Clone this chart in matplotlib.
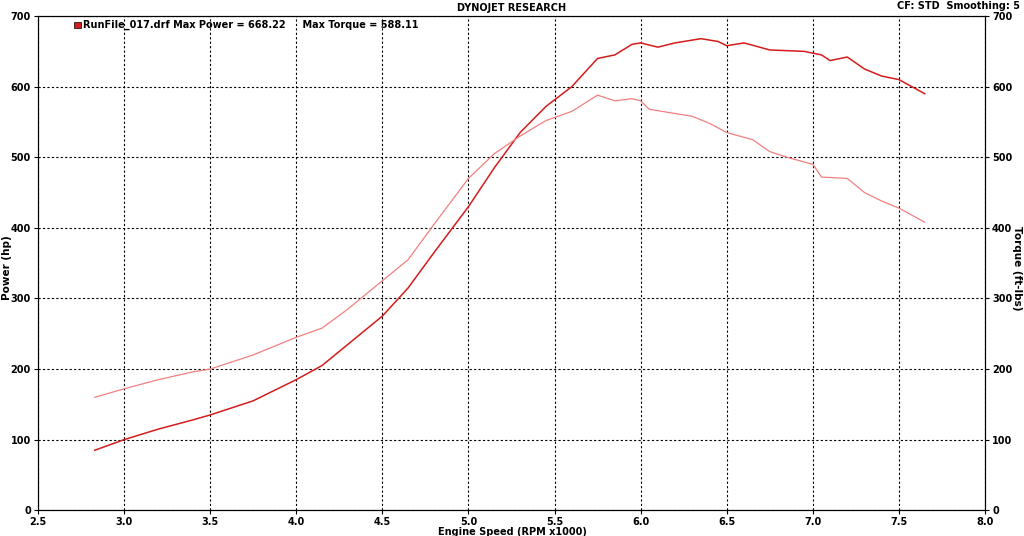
import matplotlib
matplotlib.use("Agg")
import matplotlib.pyplot as plt
from matplotlib.patches import Rectangle

plt.rcParams["font.family"] = ["DejaVu Sans"]

rpm_power = [2.83, 3.0, 3.2, 3.4, 3.5, 3.75, 4.0, 4.15, 4.3, 4.5, 4.65, 4.8, 5.0,
             5.15, 5.3, 5.45, 5.6, 5.75, 5.85, 5.95, 6.0, 6.1, 6.2, 6.35, 6.45,
             6.5, 6.6, 6.75, 6.95, 7.05, 7.1, 7.2, 7.3, 7.4, 7.5, 7.65]
power = [85, 100, 115, 128, 135, 155, 185, 205, 235, 275, 315, 365, 430,
         485, 535, 572, 600, 640, 645, 660, 662, 656, 662, 668, 664,
         658, 662, 652, 650, 645, 637, 642, 625, 615, 610, 590]

rpm_torque = [2.83, 3.0, 3.2, 3.4, 3.5, 3.75, 4.0, 4.15, 4.3, 4.5, 4.65, 4.8, 5.0,
              5.15, 5.3, 5.45, 5.6, 5.75, 5.85, 5.95, 6.0, 6.05, 6.2, 6.3, 6.4,
              6.5, 6.65, 6.75, 6.85, 7.0, 7.05, 7.2, 7.3, 7.4, 7.5, 7.65]
torque = [160, 172, 185, 196, 200, 220, 245, 258, 285, 325, 355, 405, 470,
          505, 530, 552, 565, 588, 580, 583, 580, 568, 562, 558, 548,
          535, 525, 508, 500, 490, 472, 470, 450, 438, 428, 408]

fig = plt.figure(figsize=(10.24, 5.36), dpi=100)
ax = fig.add_axes([0.037, 0.048, 0.925, 0.922])
ax.plot(rpm_power, power, color="#d41c1c", lw=1.1)
ax.plot(rpm_torque, torque, color="#f08080", lw=0.9)
ax.set_xlim(2.5, 8.0)
ax.set_ylim(0, 700)
ax.set_xticks([2.5 + 0.5 * i for i in range(12)])
ax.set_yticks(range(0, 701, 100))
ax.grid(True, color="black", ls=(0, (2, 2)), lw=0.8)
ax.tick_params(labelsize=7, length=3, pad=2)
for t in ax.get_xticklabels() + ax.get_yticklabels():
    t.set_fontweight("bold")
ax2 = ax.twinx()
ax2.set_ylim(0, 700)
ax2.set_yticks(range(0, 701, 100))
ax2.tick_params(labelsize=7, length=3, pad=2)
for t in ax2.get_yticklabels():
    t.set_fontweight("bold")
fig.text(0.5, 0.008, "Engine Speed (RPM x1000)", ha="center", va="center",
         fontsize=7, fontweight="bold")
fig.text(0.007, 0.5, "Power (hp)", ha="center", va="center", rotation=90,
         fontsize=7.5, fontweight="bold")
fig.text(0.993, 0.5, "Torque (ft-lbs)", ha="center", va="center", rotation=270,
         fontsize=7.5, fontweight="bold")
fig.text(0.5, 0.985, "DYNOJET RESEARCH", ha="center", va="center", fontsize=7, fontweight="bold")
fig.text(0.996, 0.988, "CF: STD  Smoothing: 5", ha="right", va="center", fontsize=7, fontweight="bold")
ax.add_patch(Rectangle((0.038, 0.975), 0.008, 0.014, transform=ax.transAxes,
                       facecolor="#d41c1c", edgecolor="black", lw=0.5, clip_on=False))
ax.text(0.048, 0.982, "RunFile_017.drf Max Power = 668.22     Max Torque = 588.11",
        transform=ax.transAxes, fontsize=7, fontweight="bold", va="center")
fig.savefig("out.png")
